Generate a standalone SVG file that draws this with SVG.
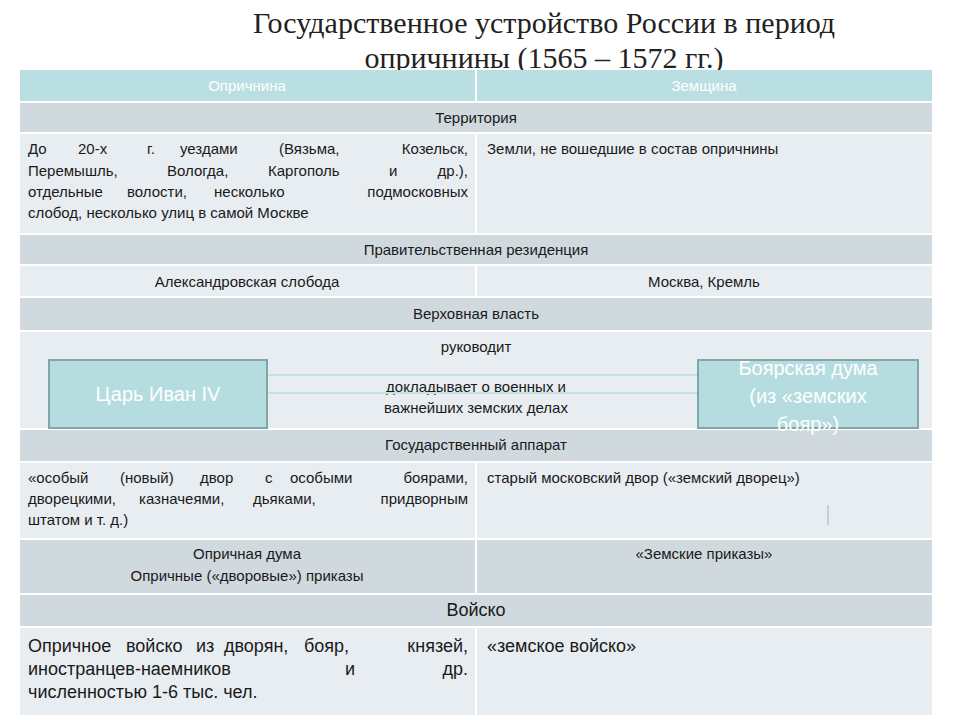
<svg xmlns="http://www.w3.org/2000/svg" width="960" height="720" viewBox="0 0 960 720">
<style>
.t{font-family:"Liberation Sans",Arial,sans-serif;font-size:15px;fill:#1a1a1a}
.c{text-anchor:middle}
.e{text-anchor:end}
.hd{fill:#b9dfe2}.sec{fill:#cfd9de}.row{fill:#e8edf1}
.big{font-size:18px}
.bx{fill:#b5dde0;stroke:#7fa6a8;stroke-width:2}
.bt{font-family:"Liberation Sans",Arial,sans-serif;font-size:20px;fill:#ffffff;text-anchor:middle}
</style>
<rect width="960" height="720" fill="#fff"/>
<text x="544" y="33" font-family="Liberation Serif,serif" font-size="30" text-anchor="middle" fill="#222">Государственное устройство России в период</text>
<text x="544" y="68" font-family="Liberation Serif,serif" font-size="30" text-anchor="middle" fill="#222">опричнины (1565 – 1572 гг.)</text>
<g id="table">
<rect class="hd" x="20" y="70" width="455" height="31"/><rect class="hd" x="477" y="70" width="455" height="31"/>
<text class="t c" x="247" y="91" style="fill:#fff">Опричнина</text>
<text class="t c" x="704" y="91" style="fill:#fff">Земщина</text>
<rect class="sec" x="20" y="103" width="912" height="29"/>
<text class="t c" x="476" y="123">Территория</text>
<rect class="row" x="20" y="134" width="455" height="99"/><rect class="row" x="477" y="134" width="455" height="99"/>
<text class="t" y="154"><tspan x="28">До</tspan><tspan x="78">20-х</tspan><tspan x="147">г.</tspan><tspan x="180">уездами</tspan><tspan x="279">(Вязьма,</tspan></text>
<text class="t e" x="468" y="154">Козельск,</text>
<text class="t" y="176"><tspan x="28">Перемышль,</tspan><tspan x="167">Вологда,</tspan><tspan x="268">Каргополь</tspan><tspan x="389">и</tspan></text>
<text class="t e" x="468" y="176">др.),</text>
<text class="t" y="197"><tspan x="28">отдельные</tspan><tspan x="127">волости,</tspan><tspan x="214">несколько</tspan></text>
<text class="t e" x="468" y="197">подмосковных</text>
<text class="t" x="28" y="218">слобод, несколько улиц в самой Москве</text>
<text class="t" x="487" y="154">Земли, не вошедшие в состав опричнины</text>
<rect class="sec" x="20" y="235" width="912" height="29"/>
<text class="t c" x="476" y="255">Правительственная резиденция</text>
<rect class="row" x="20" y="266" width="455" height="30"/><rect class="row" x="477" y="266" width="455" height="30"/>
<text class="t c" x="247" y="287">Александровская слобода</text>
<text class="t c" x="704" y="287">Москва, Кремль</text>
<rect class="sec" x="20" y="298" width="912" height="32"/>
<text class="t c" x="476" y="319">Верховная власть</text>
<rect class="row" x="20" y="332" width="912" height="96"/>
<text class="t c" x="476" y="352">руководит</text>
<text class="t c" x="476" y="392">докладывает  о военных и</text>
<text class="t c" x="476" y="413">важнейших  земских делах</text>
<rect class="sec" x="20" y="430" width="912" height="31"/>
<text class="t c" x="476" y="450">Государственный аппарат</text>
<rect class="row" x="20" y="463" width="455" height="75"/><rect class="row" x="477" y="463" width="455" height="75"/>
<text class="t" y="483"><tspan x="28">«особый</tspan><tspan x="120">(новый)</tspan><tspan x="200">двор</tspan><tspan x="265">с</tspan><tspan x="290">особыми</tspan></text>
<text class="t e" x="468" y="483">боярами,</text>
<text class="t" y="504"><tspan x="28">дворецкими,</tspan><tspan x="139">казначеями,</tspan><tspan x="253">дьяками,</tspan></text>
<text class="t e" x="468" y="504">придворным</text>
<text class="t" x="28" y="525">штатом и т. д.)</text>
<text class="t" x="487" y="483">старый московский двор («земский дворец»)</text>
<line x1="828" y1="505" x2="828" y2="525" stroke="#b0c8cc" stroke-width="1.5"/>
<rect class="sec" x="20" y="540" width="455" height="53"/><rect class="sec" x="477" y="540" width="455" height="53"/>
<text class="t c" x="247" y="559">Опричная дума</text>
<text class="t c" x="247" y="581">Опричные («дворовые») приказы</text>
<text class="t c" x="704" y="559">«Земские приказы»</text>
<rect class="sec" x="20" y="595" width="912" height="31"/>
<text class="t c big" x="476" y="616">Войско</text>
<rect class="row" x="20" y="628" width="455" height="87"/><rect class="row" x="477" y="628" width="455" height="87"/>
<text class="t big" y="652"><tspan x="28">Опричное</tspan><tspan x="126">войско</tspan><tspan x="196">из</tspan><tspan x="224">дворян,</tspan><tspan x="304">бояр,</tspan></text>
<text class="t big e" x="468" y="652">князей,</text>
<text class="t big" y="675"><tspan x="28">иностранцев-наемников</tspan><tspan x="345">и</tspan></text>
<text class="t big e" x="468" y="675">др.</text>
<text class="t big" x="28" y="698">численностью 1-6 тыс. чел.</text>
<text class="t big" x="487" y="652">«земское войско»</text>
</g>
<g id="connectors" stroke="#c5dfe2" stroke-width="2">
<line x1="268" y1="375" x2="698" y2="375"/>
<line x1="268" y1="393" x2="698" y2="393"/>
</g>
<g id="tsar"><rect class="bx" x="49" y="360" width="218" height="68"/>
<text class="bt" x="158" y="401">Царь Иван IV</text></g>
<g id="duma"><rect class="bx" x="698" y="360" width="220" height="68"/>
<text class="bt" x="808" y="375">Боярская дума</text>
<text class="bt" x="808" y="403">(из «земских</text>
<text class="bt" x="808" y="431">бояр»)</text></g>
</svg>
